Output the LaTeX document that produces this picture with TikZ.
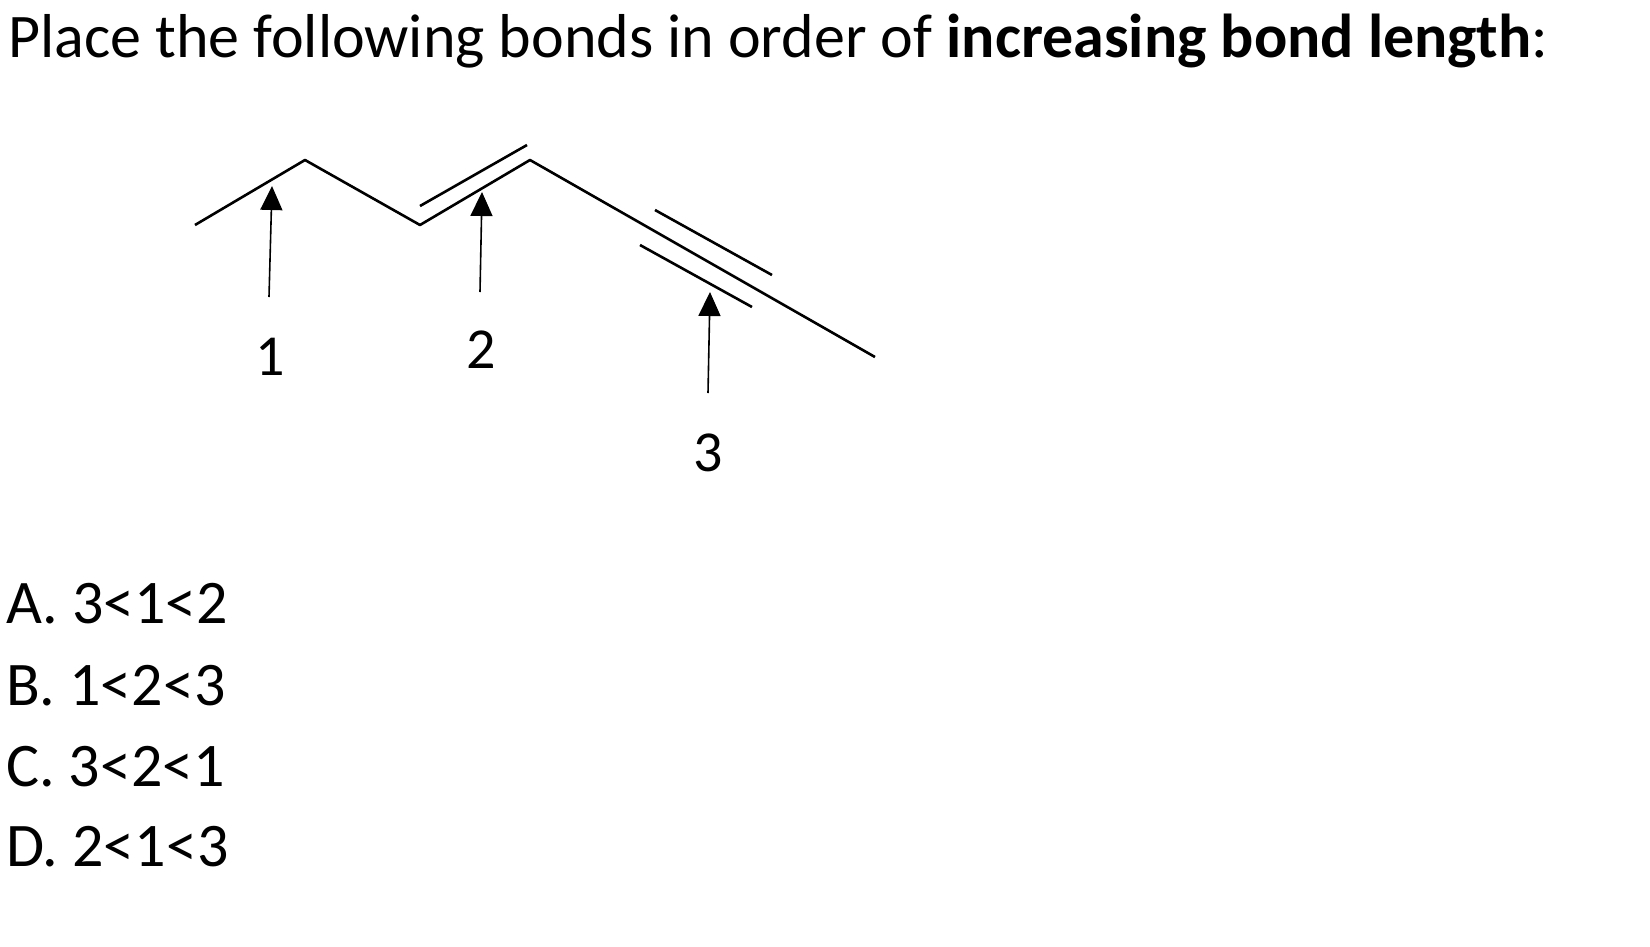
\documentclass[tikz,border=0pt]{standalone}
\usepackage{fontspec}
\setmainfont{Carlito}
\usetikzlibrary{arrows.meta}
\begin{document}
\begin{tikzpicture}[x=1pt,y=-1pt,
  bond/.style={line width=2.6pt},
  ptr/.style={line width=1.6pt,-{Triangle[length=24pt,width=22pt]}},
  txt/.style={anchor=base west,inner sep=0pt,font=\fontsize{62}{70}\selectfont},
  num/.style={inner sep=0pt,font=\fontsize{58}{66}\selectfont}]
\useasboundingbox (0,0) rectangle (1650,946);
\node[txt] (title) at (8,57) {Place the following bonds in order of \textbf{increasing bond length}:};
\coordinate (c1) at (195,225);
\coordinate (c2) at (305,160);
\coordinate (c3) at (420,225);
\coordinate (c4) at (530,160);
\coordinate (c6) at (875,357);
\draw[bond,line join=round] (c1)--(c2)--(c3)--(c4)--(c6);
\coordinate (d1) at (420,206); \coordinate (d2) at (527,145);
\draw[bond] (d1)--(d2);
\coordinate (t1) at (655,210); \coordinate (t2) at (772,275);
\coordinate (t3) at (640,245); \coordinate (t4) at (752,307);
\draw[bond] (t1)--(t2);
\draw[bond] (t3)--(t4);
\coordinate (a1s) at (269,297); \coordinate (a1e) at (272,186);
\coordinate (a2s) at (480,292); \coordinate (a2e) at (482,192);
\coordinate (a3s) at (708,393); \coordinate (a3e) at (710,292);
\draw[ptr] (a1s)--(a1e);
\draw[ptr] (a2s)--(a2e);
\draw[ptr] (a3s)--(a3e);
\node[num] (l1) at (270,357) {1};
\node[num] (l2) at (481,350) {2};
\node[num] (l3) at (708,453) {3};
\node[txt] (oa) at (6,623) {A. 3<1<2};
\node[txt] (ob) at (6,705) {B. 1<2<3};
\node[txt] (oc) at (6,786) {C. 3<2<1};
\node[txt] (od) at (6,866) {D. 2<1<3};
\end{tikzpicture}
\end{document}
